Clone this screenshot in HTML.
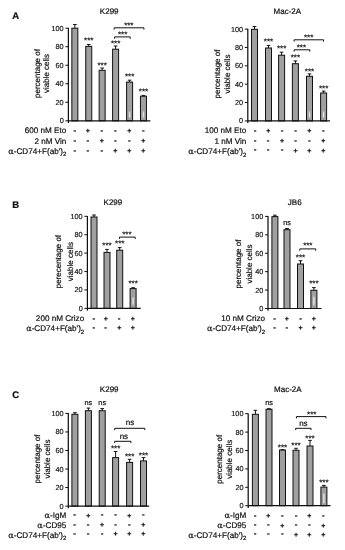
<!DOCTYPE html>
<html><head><meta charset="utf-8"><title>Figure</title>
<style>
html,body{margin:0;padding:0;background:#fff;}
svg{display:block;}
.tk{stroke-width:0.15px;}
text{text-rendering:geometricPrecision;font-family:'Liberation Sans', Arial, sans-serif;fill:#111;stroke:#111;stroke-width:0.2px;}
</style></head>
<body>
<svg width="345" height="550" viewBox="0 0 345 550">
<rect width="345" height="550" fill="#fff"/>
<rect x="71.85" y="28.20" width="6.00" height="92.60" fill="#a0a0a0" stroke="#111" stroke-width="1"/>
<rect x="85.75" y="46.40" width="6.00" height="74.40" fill="#a0a0a0" stroke="#111" stroke-width="1"/>
<rect x="99.15" y="70.30" width="6.00" height="50.50" fill="#a0a0a0" stroke="#111" stroke-width="1"/>
<rect x="112.60" y="49.20" width="6.00" height="71.60" fill="#a0a0a0" stroke="#111" stroke-width="1"/>
<rect x="126.60" y="82.10" width="6.00" height="38.70" fill="#a0a0a0" stroke="#111" stroke-width="1"/>
<rect x="140.45" y="96.20" width="6.00" height="24.60" fill="#a0a0a0" stroke="#111" stroke-width="1"/>
<line x1="129.60" y1="112.00" x2="129.60" y2="117.20" stroke="#fff" stroke-width="1.6" stroke-linecap="round" opacity="0.45"/>
<line x1="129.60" y1="112.80" x2="129.60" y2="116.40" stroke="#fff" stroke-width="0.8" stroke-linecap="round" opacity="0.6"/>
<line x1="143.45" y1="112.00" x2="143.45" y2="117.20" stroke="#fff" stroke-width="1.6" stroke-linecap="round" opacity="0.45"/>
<line x1="143.45" y1="112.80" x2="143.45" y2="116.40" stroke="#fff" stroke-width="0.8" stroke-linecap="round" opacity="0.6"/>
<line x1="74.85" y1="28.20" x2="74.85" y2="24.50" stroke="#111" stroke-width="1"/>
<line x1="73.05" y1="24.50" x2="76.65" y2="24.50" stroke="#111" stroke-width="1"/>
<line x1="88.75" y1="46.40" x2="88.75" y2="44.50" stroke="#111" stroke-width="1"/>
<line x1="86.95" y1="44.50" x2="90.55" y2="44.50" stroke="#111" stroke-width="1"/>
<line x1="102.15" y1="70.30" x2="102.15" y2="68.00" stroke="#111" stroke-width="1"/>
<line x1="100.35" y1="68.00" x2="103.95" y2="68.00" stroke="#111" stroke-width="1"/>
<line x1="115.60" y1="49.20" x2="115.60" y2="46.00" stroke="#111" stroke-width="1"/>
<line x1="113.80" y1="46.00" x2="117.40" y2="46.00" stroke="#111" stroke-width="1"/>
<line x1="129.60" y1="82.10" x2="129.60" y2="80.20" stroke="#111" stroke-width="1"/>
<line x1="127.80" y1="80.20" x2="131.40" y2="80.20" stroke="#111" stroke-width="1"/>
<line x1="143.45" y1="96.20" x2="143.45" y2="95.40" stroke="#111" stroke-width="1"/>
<line x1="141.65" y1="95.40" x2="145.25" y2="95.40" stroke="#111" stroke-width="1"/>
<line x1="68.40" y1="27.90" x2="68.40" y2="123.00" stroke="#111" stroke-width="1.25"/>
<line x1="68.40" y1="120.80" x2="150.40" y2="120.80" stroke="#111" stroke-width="1.2"/>
<line x1="65.40" y1="120.80" x2="68.40" y2="120.80" stroke="#111" stroke-width="1"/>
<text x="63.70" y="123.30" text-anchor="end" font-size="7.3" class="tk">0</text>
<line x1="65.40" y1="102.28" x2="68.40" y2="102.28" stroke="#111" stroke-width="1"/>
<text x="63.70" y="104.78" text-anchor="end" font-size="7.3" class="tk">20</text>
<line x1="65.40" y1="83.76" x2="68.40" y2="83.76" stroke="#111" stroke-width="1"/>
<text x="63.70" y="86.26" text-anchor="end" font-size="7.3" class="tk">40</text>
<line x1="65.40" y1="65.24" x2="68.40" y2="65.24" stroke="#111" stroke-width="1"/>
<text x="63.70" y="67.74" text-anchor="end" font-size="7.3" class="tk">60</text>
<line x1="65.40" y1="46.72" x2="68.40" y2="46.72" stroke="#111" stroke-width="1"/>
<text x="63.70" y="49.22" text-anchor="end" font-size="7.3" class="tk">80</text>
<line x1="65.40" y1="28.20" x2="68.40" y2="28.20" stroke="#111" stroke-width="1"/>
<text x="63.70" y="30.70" text-anchor="end" font-size="7.3" class="tk">100</text>
<text x="88.75" y="43.00" text-anchor="middle" font-size="8" >***</text>
<text x="102.15" y="68.20" text-anchor="middle" font-size="8" >***</text>
<text x="115.60" y="45.50" text-anchor="middle" font-size="8" >***</text>
<text x="129.60" y="79.10" text-anchor="middle" font-size="8" >***</text>
<text x="143.45" y="94.30" text-anchor="middle" font-size="8" >***</text>
<polyline points="114.20,29.60 114.20,27.80 143.90,27.80 143.90,29.60" fill="none" stroke="#111" stroke-width="1"/>
<text x="128.80" y="28.00" text-anchor="middle" font-size="8" >***</text>
<polyline points="114.60,38.70 114.60,36.90 130.20,36.90 130.20,38.70" fill="none" stroke="#111" stroke-width="1"/>
<text x="122.60" y="37.40" text-anchor="middle" font-size="8" >***</text>
<text x="109.20" y="13.90" text-anchor="middle" font-size="8" >K299</text>
<text transform="translate(39.50,73.50) rotate(-90)" text-anchor="middle" font-size="8">percentage of</text>
<text transform="translate(49.00,73.50) rotate(-90)" text-anchor="middle" font-size="8">viable cells</text>
<text x="66.30" y="133.10" text-anchor="end" font-size="8.15" >600 nM Eto</text>
<text x="74.80" y="132.88" text-anchor="middle" font-size="8" font-weight="bold">-</text>
<text x="87.80" y="133.13" text-anchor="middle" font-size="7" font-weight="bold">+</text>
<text x="101.90" y="132.88" text-anchor="middle" font-size="8" font-weight="bold">-</text>
<text x="115.40" y="132.88" text-anchor="middle" font-size="8" font-weight="bold">-</text>
<text x="129.40" y="133.13" text-anchor="middle" font-size="7" font-weight="bold">+</text>
<text x="143.30" y="132.88" text-anchor="middle" font-size="8" font-weight="bold">-</text>
<text x="66.30" y="144.00" text-anchor="end" font-size="8.15" >2 nM Vin</text>
<text x="74.80" y="142.88" text-anchor="middle" font-size="8" font-weight="bold">-</text>
<text x="87.80" y="142.88" text-anchor="middle" font-size="8" font-weight="bold">-</text>
<text x="101.90" y="143.13" text-anchor="middle" font-size="7" font-weight="bold">+</text>
<text x="115.40" y="142.88" text-anchor="middle" font-size="8" font-weight="bold">-</text>
<text x="129.40" y="142.88" text-anchor="middle" font-size="8" font-weight="bold">-</text>
<text x="143.30" y="143.13" text-anchor="middle" font-size="7" font-weight="bold">+</text>
<text x="66.30" y="154.10" text-anchor="end" font-size="8.15" ><tspan font-family="DejaVu Serif, serif" font-size="8.2">α</tspan>-CD74+F(ab')<tspan font-size="6" dy="2.2">2</tspan></text>
<text x="74.80" y="153.08" text-anchor="middle" font-size="8" font-weight="bold">-</text>
<text x="87.80" y="153.08" text-anchor="middle" font-size="8" font-weight="bold">-</text>
<text x="101.90" y="153.08" text-anchor="middle" font-size="8" font-weight="bold">-</text>
<text x="115.40" y="153.33" text-anchor="middle" font-size="7" font-weight="bold">+</text>
<text x="129.40" y="153.33" text-anchor="middle" font-size="7" font-weight="bold">+</text>
<text x="143.30" y="153.33" text-anchor="middle" font-size="7" font-weight="bold">+</text>
<rect x="251.50" y="29.30" width="6.00" height="91.60" fill="#a0a0a0" stroke="#111" stroke-width="1"/>
<rect x="265.50" y="48.00" width="6.00" height="72.90" fill="#a0a0a0" stroke="#111" stroke-width="1"/>
<rect x="278.60" y="55.20" width="6.00" height="65.70" fill="#a0a0a0" stroke="#111" stroke-width="1"/>
<rect x="292.40" y="63.70" width="6.00" height="57.20" fill="#a0a0a0" stroke="#111" stroke-width="1"/>
<rect x="306.50" y="76.30" width="6.00" height="44.60" fill="#a0a0a0" stroke="#111" stroke-width="1"/>
<rect x="320.60" y="93.00" width="6.00" height="27.90" fill="#a0a0a0" stroke="#111" stroke-width="1"/>
<line x1="309.50" y1="112.00" x2="309.50" y2="117.20" stroke="#fff" stroke-width="1.6" stroke-linecap="round" opacity="0.45"/>
<line x1="309.50" y1="112.80" x2="309.50" y2="116.40" stroke="#fff" stroke-width="0.8" stroke-linecap="round" opacity="0.6"/>
<line x1="323.60" y1="112.00" x2="323.60" y2="117.20" stroke="#fff" stroke-width="1.6" stroke-linecap="round" opacity="0.45"/>
<line x1="323.60" y1="112.80" x2="323.60" y2="116.40" stroke="#fff" stroke-width="0.8" stroke-linecap="round" opacity="0.6"/>
<line x1="254.50" y1="29.30" x2="254.50" y2="26.50" stroke="#111" stroke-width="1"/>
<line x1="252.70" y1="26.50" x2="256.30" y2="26.50" stroke="#111" stroke-width="1"/>
<line x1="268.50" y1="48.00" x2="268.50" y2="45.40" stroke="#111" stroke-width="1"/>
<line x1="266.70" y1="45.40" x2="270.30" y2="45.40" stroke="#111" stroke-width="1"/>
<line x1="281.60" y1="55.20" x2="281.60" y2="52.20" stroke="#111" stroke-width="1"/>
<line x1="279.80" y1="52.20" x2="283.40" y2="52.20" stroke="#111" stroke-width="1"/>
<line x1="295.40" y1="63.70" x2="295.40" y2="60.90" stroke="#111" stroke-width="1"/>
<line x1="293.60" y1="60.90" x2="297.20" y2="60.90" stroke="#111" stroke-width="1"/>
<line x1="309.50" y1="76.30" x2="309.50" y2="73.90" stroke="#111" stroke-width="1"/>
<line x1="307.70" y1="73.90" x2="311.30" y2="73.90" stroke="#111" stroke-width="1"/>
<line x1="323.60" y1="93.00" x2="323.60" y2="91.10" stroke="#111" stroke-width="1"/>
<line x1="321.80" y1="91.10" x2="325.40" y2="91.10" stroke="#111" stroke-width="1"/>
<line x1="247.80" y1="28.80" x2="247.80" y2="123.10" stroke="#111" stroke-width="1.25"/>
<line x1="247.80" y1="120.90" x2="330.00" y2="120.90" stroke="#111" stroke-width="1.2"/>
<line x1="244.80" y1="120.90" x2="247.80" y2="120.90" stroke="#111" stroke-width="1"/>
<text x="243.10" y="123.40" text-anchor="end" font-size="7.3" class="tk">0</text>
<line x1="244.80" y1="102.54" x2="247.80" y2="102.54" stroke="#111" stroke-width="1"/>
<text x="243.10" y="105.04" text-anchor="end" font-size="7.3" class="tk">20</text>
<line x1="244.80" y1="84.18" x2="247.80" y2="84.18" stroke="#111" stroke-width="1"/>
<text x="243.10" y="86.68" text-anchor="end" font-size="7.3" class="tk">40</text>
<line x1="244.80" y1="65.82" x2="247.80" y2="65.82" stroke="#111" stroke-width="1"/>
<text x="243.10" y="68.32" text-anchor="end" font-size="7.3" class="tk">60</text>
<line x1="244.80" y1="47.46" x2="247.80" y2="47.46" stroke="#111" stroke-width="1"/>
<text x="243.10" y="49.96" text-anchor="end" font-size="7.3" class="tk">80</text>
<line x1="244.80" y1="29.10" x2="247.80" y2="29.10" stroke="#111" stroke-width="1"/>
<text x="243.10" y="31.60" text-anchor="end" font-size="7.3" class="tk">100</text>
<text x="268.50" y="43.90" text-anchor="middle" font-size="8" >***</text>
<text x="281.60" y="50.50" text-anchor="middle" font-size="8" >***</text>
<text x="295.40" y="59.90" text-anchor="middle" font-size="8" >***</text>
<text x="309.50" y="74.10" text-anchor="middle" font-size="8" >***</text>
<text x="323.60" y="90.90" text-anchor="middle" font-size="8" >***</text>
<polyline points="294.10,41.60 294.10,39.80 323.50,39.80 323.50,41.60" fill="none" stroke="#111" stroke-width="1"/>
<text x="308.60" y="40.00" text-anchor="middle" font-size="8" >***</text>
<polyline points="294.10,51.60 294.10,49.80 309.80,49.80 309.80,51.60" fill="none" stroke="#111" stroke-width="1"/>
<text x="301.40" y="50.10" text-anchor="middle" font-size="8" >***</text>
<text x="287.30" y="13.90" text-anchor="middle" font-size="8" >Mac-2A</text>
<text transform="translate(219.90,74.00) rotate(-90)" text-anchor="middle" font-size="8">percentage of</text>
<text transform="translate(229.90,74.00) rotate(-90)" text-anchor="middle" font-size="8">viable cells</text>
<text x="246.30" y="133.20" text-anchor="end" font-size="8.15" >100 nM Eto</text>
<text x="255.00" y="132.73" text-anchor="middle" font-size="8" font-weight="bold">-</text>
<text x="268.20" y="132.98" text-anchor="middle" font-size="7" font-weight="bold">+</text>
<text x="282.10" y="132.73" text-anchor="middle" font-size="8" font-weight="bold">-</text>
<text x="295.50" y="132.73" text-anchor="middle" font-size="8" font-weight="bold">-</text>
<text x="309.40" y="132.98" text-anchor="middle" font-size="7" font-weight="bold">+</text>
<text x="323.40" y="132.73" text-anchor="middle" font-size="8" font-weight="bold">-</text>
<text x="246.30" y="143.70" text-anchor="end" font-size="8.15" >1 nM Vin</text>
<text x="255.00" y="142.53" text-anchor="middle" font-size="8" font-weight="bold">-</text>
<text x="268.20" y="142.53" text-anchor="middle" font-size="8" font-weight="bold">-</text>
<text x="282.10" y="142.78" text-anchor="middle" font-size="7" font-weight="bold">+</text>
<text x="295.50" y="142.53" text-anchor="middle" font-size="8" font-weight="bold">-</text>
<text x="309.40" y="142.53" text-anchor="middle" font-size="8" font-weight="bold">-</text>
<text x="323.40" y="142.78" text-anchor="middle" font-size="7" font-weight="bold">+</text>
<text x="246.30" y="154.30" text-anchor="end" font-size="8.15" ><tspan font-family="DejaVu Serif, serif" font-size="8.2">α</tspan>-CD74+F(ab')<tspan font-size="6" dy="2.2">2</tspan></text>
<text x="255.00" y="152.48" text-anchor="middle" font-size="8" font-weight="bold">-</text>
<text x="268.20" y="152.48" text-anchor="middle" font-size="8" font-weight="bold">-</text>
<text x="282.10" y="152.48" text-anchor="middle" font-size="8" font-weight="bold">-</text>
<text x="295.50" y="152.73" text-anchor="middle" font-size="7" font-weight="bold">+</text>
<text x="309.40" y="152.73" text-anchor="middle" font-size="7" font-weight="bold">+</text>
<text x="323.40" y="152.73" text-anchor="middle" font-size="7" font-weight="bold">+</text>
<rect x="91.00" y="217.00" width="6.00" height="91.40" fill="#a0a0a0" stroke="#111" stroke-width="1"/>
<rect x="104.00" y="252.40" width="6.00" height="56.00" fill="#a0a0a0" stroke="#111" stroke-width="1"/>
<rect x="116.70" y="250.20" width="6.00" height="58.20" fill="#a0a0a0" stroke="#111" stroke-width="1"/>
<rect x="130.10" y="288.60" width="6.00" height="19.80" fill="#a0a0a0" stroke="#111" stroke-width="1"/>
<line x1="133.10" y1="297.80" x2="133.10" y2="304.20" stroke="#fff" stroke-width="1.6" stroke-linecap="round" opacity="0.45"/>
<line x1="133.10" y1="298.60" x2="133.10" y2="303.40" stroke="#fff" stroke-width="0.8" stroke-linecap="round" opacity="0.6"/>
<line x1="94.00" y1="217.00" x2="94.00" y2="215.00" stroke="#111" stroke-width="1"/>
<line x1="92.20" y1="215.00" x2="95.80" y2="215.00" stroke="#111" stroke-width="1"/>
<line x1="107.00" y1="252.40" x2="107.00" y2="249.40" stroke="#111" stroke-width="1"/>
<line x1="105.20" y1="249.40" x2="108.80" y2="249.40" stroke="#111" stroke-width="1"/>
<line x1="119.70" y1="250.20" x2="119.70" y2="247.60" stroke="#111" stroke-width="1"/>
<line x1="117.90" y1="247.60" x2="121.50" y2="247.60" stroke="#111" stroke-width="1"/>
<line x1="133.10" y1="288.60" x2="133.10" y2="287.70" stroke="#111" stroke-width="1"/>
<line x1="131.30" y1="287.70" x2="134.90" y2="287.70" stroke="#111" stroke-width="1"/>
<line x1="87.40" y1="216.00" x2="87.40" y2="310.60" stroke="#111" stroke-width="1.25"/>
<line x1="87.40" y1="308.40" x2="140.70" y2="308.40" stroke="#111" stroke-width="1.2"/>
<line x1="84.40" y1="308.40" x2="87.40" y2="308.40" stroke="#111" stroke-width="1"/>
<text x="82.70" y="310.90" text-anchor="end" font-size="7.3" class="tk">0</text>
<line x1="84.40" y1="289.98" x2="87.40" y2="289.98" stroke="#111" stroke-width="1"/>
<text x="82.70" y="292.48" text-anchor="end" font-size="7.3" class="tk">20</text>
<line x1="84.40" y1="271.56" x2="87.40" y2="271.56" stroke="#111" stroke-width="1"/>
<text x="82.70" y="274.06" text-anchor="end" font-size="7.3" class="tk">40</text>
<line x1="84.40" y1="253.14" x2="87.40" y2="253.14" stroke="#111" stroke-width="1"/>
<text x="82.70" y="255.64" text-anchor="end" font-size="7.3" class="tk">60</text>
<line x1="84.40" y1="234.72" x2="87.40" y2="234.72" stroke="#111" stroke-width="1"/>
<text x="82.70" y="237.22" text-anchor="end" font-size="7.3" class="tk">80</text>
<line x1="84.40" y1="216.30" x2="87.40" y2="216.30" stroke="#111" stroke-width="1"/>
<text x="82.70" y="218.80" text-anchor="end" font-size="7.3" class="tk">100</text>
<text x="107.00" y="248.00" text-anchor="middle" font-size="8" >***</text>
<text x="119.70" y="246.40" text-anchor="middle" font-size="8" >***</text>
<text x="133.10" y="286.10" text-anchor="middle" font-size="8" >***</text>
<polyline points="119.50,238.90 119.50,237.10 135.20,237.10 135.20,238.90" fill="none" stroke="#111" stroke-width="1"/>
<text x="126.90" y="236.90" text-anchor="middle" font-size="8" >***</text>
<text x="112.90" y="205.30" text-anchor="middle" font-size="8" >K299</text>
<text transform="translate(61.40,261.60) rotate(-90)" text-anchor="middle" font-size="8">perecentage of</text>
<text transform="translate(72.90,261.60) rotate(-90)" text-anchor="middle" font-size="8">viable cells</text>
<text x="84.20" y="321.40" text-anchor="end" font-size="8.15" >200 nM Crizo</text>
<text x="93.80" y="320.78" text-anchor="middle" font-size="8" font-weight="bold">-</text>
<text x="105.70" y="321.03" text-anchor="middle" font-size="7" font-weight="bold">+</text>
<text x="119.20" y="320.78" text-anchor="middle" font-size="8" font-weight="bold">-</text>
<text x="132.90" y="321.03" text-anchor="middle" font-size="7" font-weight="bold">+</text>
<text x="84.20" y="331.40" text-anchor="end" font-size="8.15" ><tspan font-family="DejaVu Serif, serif" font-size="8.2">α</tspan>-CD74+F(ab')<tspan font-size="6" dy="2.2">2</tspan></text>
<text x="93.80" y="329.88" text-anchor="middle" font-size="8" font-weight="bold">-</text>
<text x="105.70" y="329.88" text-anchor="middle" font-size="8" font-weight="bold">-</text>
<text x="119.20" y="330.13" text-anchor="middle" font-size="7" font-weight="bold">+</text>
<text x="132.90" y="330.13" text-anchor="middle" font-size="7" font-weight="bold">+</text>
<rect x="271.90" y="216.60" width="6.00" height="91.90" fill="#a0a0a0" stroke="#111" stroke-width="1"/>
<rect x="284.00" y="229.70" width="6.00" height="78.80" fill="#a0a0a0" stroke="#111" stroke-width="1"/>
<rect x="297.50" y="264.00" width="6.00" height="44.50" fill="#a0a0a0" stroke="#111" stroke-width="1"/>
<rect x="310.90" y="290.30" width="6.00" height="18.20" fill="#a0a0a0" stroke="#111" stroke-width="1"/>
<line x1="313.90" y1="297.20" x2="313.90" y2="304.80" stroke="#fff" stroke-width="1.6" stroke-linecap="round" opacity="0.45"/>
<line x1="313.90" y1="298.00" x2="313.90" y2="304.00" stroke="#fff" stroke-width="0.8" stroke-linecap="round" opacity="0.6"/>
<line x1="274.90" y1="216.60" x2="274.90" y2="215.20" stroke="#111" stroke-width="1"/>
<line x1="273.10" y1="215.20" x2="276.70" y2="215.20" stroke="#111" stroke-width="1"/>
<line x1="287.00" y1="229.70" x2="287.00" y2="228.50" stroke="#111" stroke-width="1"/>
<line x1="285.20" y1="228.50" x2="288.80" y2="228.50" stroke="#111" stroke-width="1"/>
<line x1="300.50" y1="264.00" x2="300.50" y2="260.70" stroke="#111" stroke-width="1"/>
<line x1="298.70" y1="260.70" x2="302.30" y2="260.70" stroke="#111" stroke-width="1"/>
<line x1="313.90" y1="290.30" x2="313.90" y2="287.60" stroke="#111" stroke-width="1"/>
<line x1="312.10" y1="287.60" x2="315.70" y2="287.60" stroke="#111" stroke-width="1"/>
<line x1="268.00" y1="216.10" x2="268.00" y2="310.70" stroke="#111" stroke-width="1.25"/>
<line x1="268.00" y1="308.50" x2="321.50" y2="308.50" stroke="#111" stroke-width="1.2"/>
<line x1="265.00" y1="308.50" x2="268.00" y2="308.50" stroke="#111" stroke-width="1"/>
<text x="263.30" y="311.00" text-anchor="end" font-size="7.3" class="tk">0</text>
<line x1="265.00" y1="290.08" x2="268.00" y2="290.08" stroke="#111" stroke-width="1"/>
<text x="263.30" y="292.58" text-anchor="end" font-size="7.3" class="tk">20</text>
<line x1="265.00" y1="271.66" x2="268.00" y2="271.66" stroke="#111" stroke-width="1"/>
<text x="263.30" y="274.16" text-anchor="end" font-size="7.3" class="tk">40</text>
<line x1="265.00" y1="253.24" x2="268.00" y2="253.24" stroke="#111" stroke-width="1"/>
<text x="263.30" y="255.74" text-anchor="end" font-size="7.3" class="tk">60</text>
<line x1="265.00" y1="234.82" x2="268.00" y2="234.82" stroke="#111" stroke-width="1"/>
<text x="263.30" y="237.32" text-anchor="end" font-size="7.3" class="tk">80</text>
<line x1="265.00" y1="216.40" x2="268.00" y2="216.40" stroke="#111" stroke-width="1"/>
<text x="263.30" y="218.90" text-anchor="end" font-size="7.3" class="tk">100</text>
<text x="287.00" y="224.86" text-anchor="middle" font-size="7.3" >ns</text>
<text x="300.50" y="260.00" text-anchor="middle" font-size="8" >***</text>
<text x="313.90" y="286.30" text-anchor="middle" font-size="8" >***</text>
<polyline points="299.80,250.70 299.80,248.90 315.70,248.90 315.70,250.70" fill="none" stroke="#111" stroke-width="1"/>
<text x="307.80" y="248.40" text-anchor="middle" font-size="8" >***</text>
<text x="294.70" y="205.30" text-anchor="middle" font-size="8" >JB6</text>
<text transform="translate(241.00,264.00) rotate(-90)" text-anchor="middle" font-size="8">percentage of</text>
<text transform="translate(251.90,264.00) rotate(-90)" text-anchor="middle" font-size="8">viable cells</text>
<text x="265.10" y="321.40" text-anchor="end" font-size="8.15" >10 nM Crizo</text>
<text x="274.50" y="320.78" text-anchor="middle" font-size="8" font-weight="bold">-</text>
<text x="286.80" y="321.03" text-anchor="middle" font-size="7" font-weight="bold">+</text>
<text x="300.60" y="320.78" text-anchor="middle" font-size="8" font-weight="bold">-</text>
<text x="313.70" y="321.03" text-anchor="middle" font-size="7" font-weight="bold">+</text>
<text x="265.10" y="331.40" text-anchor="end" font-size="8.15" ><tspan font-family="DejaVu Serif, serif" font-size="8.2">α</tspan>-CD74+F(ab')<tspan font-size="6" dy="2.2">2</tspan></text>
<text x="274.50" y="329.88" text-anchor="middle" font-size="8" font-weight="bold">-</text>
<text x="286.80" y="329.88" text-anchor="middle" font-size="8" font-weight="bold">-</text>
<text x="300.60" y="330.13" text-anchor="middle" font-size="7" font-weight="bold">+</text>
<text x="313.70" y="330.13" text-anchor="middle" font-size="7" font-weight="bold">+</text>
<rect x="71.90" y="414.30" width="6.00" height="91.80" fill="#a0a0a0" stroke="#111" stroke-width="1"/>
<rect x="85.40" y="410.70" width="6.00" height="95.40" fill="#a0a0a0" stroke="#111" stroke-width="1"/>
<rect x="99.20" y="410.70" width="6.00" height="95.40" fill="#a0a0a0" stroke="#111" stroke-width="1"/>
<rect x="112.60" y="457.60" width="6.00" height="48.50" fill="#a0a0a0" stroke="#111" stroke-width="1"/>
<rect x="126.60" y="462.40" width="6.00" height="43.70" fill="#a0a0a0" stroke="#111" stroke-width="1"/>
<rect x="140.50" y="460.90" width="6.00" height="45.20" fill="#a0a0a0" stroke="#111" stroke-width="1"/>
<line x1="74.90" y1="414.30" x2="74.90" y2="412.70" stroke="#111" stroke-width="1"/>
<line x1="73.10" y1="412.70" x2="76.70" y2="412.70" stroke="#111" stroke-width="1"/>
<line x1="88.40" y1="410.70" x2="88.40" y2="408.10" stroke="#111" stroke-width="1"/>
<line x1="86.60" y1="408.10" x2="90.20" y2="408.10" stroke="#111" stroke-width="1"/>
<line x1="102.20" y1="410.70" x2="102.20" y2="408.60" stroke="#111" stroke-width="1"/>
<line x1="100.40" y1="408.60" x2="104.00" y2="408.60" stroke="#111" stroke-width="1"/>
<line x1="115.60" y1="457.60" x2="115.60" y2="451.50" stroke="#111" stroke-width="1"/>
<line x1="113.80" y1="451.50" x2="117.40" y2="451.50" stroke="#111" stroke-width="1"/>
<line x1="129.60" y1="462.40" x2="129.60" y2="459.30" stroke="#111" stroke-width="1"/>
<line x1="127.80" y1="459.30" x2="131.40" y2="459.30" stroke="#111" stroke-width="1"/>
<line x1="143.50" y1="460.90" x2="143.50" y2="457.60" stroke="#111" stroke-width="1"/>
<line x1="141.70" y1="457.60" x2="145.30" y2="457.60" stroke="#111" stroke-width="1"/>
<line x1="68.30" y1="413.10" x2="68.30" y2="508.30" stroke="#111" stroke-width="1.25"/>
<line x1="68.30" y1="506.10" x2="149.20" y2="506.10" stroke="#111" stroke-width="1.2"/>
<line x1="65.30" y1="506.10" x2="68.30" y2="506.10" stroke="#111" stroke-width="1"/>
<text x="63.60" y="508.60" text-anchor="end" font-size="7.3" class="tk">0</text>
<line x1="65.30" y1="487.56" x2="68.30" y2="487.56" stroke="#111" stroke-width="1"/>
<text x="63.60" y="490.06" text-anchor="end" font-size="7.3" class="tk">20</text>
<line x1="65.30" y1="469.02" x2="68.30" y2="469.02" stroke="#111" stroke-width="1"/>
<text x="63.60" y="471.52" text-anchor="end" font-size="7.3" class="tk">40</text>
<line x1="65.30" y1="450.48" x2="68.30" y2="450.48" stroke="#111" stroke-width="1"/>
<text x="63.60" y="452.98" text-anchor="end" font-size="7.3" class="tk">60</text>
<line x1="65.30" y1="431.94" x2="68.30" y2="431.94" stroke="#111" stroke-width="1"/>
<text x="63.60" y="434.44" text-anchor="end" font-size="7.3" class="tk">80</text>
<line x1="65.30" y1="413.40" x2="68.30" y2="413.40" stroke="#111" stroke-width="1"/>
<text x="63.60" y="415.90" text-anchor="end" font-size="7.3" class="tk">100</text>
<text x="88.40" y="404.86" text-anchor="middle" font-size="7.3" >ns</text>
<text x="102.20" y="404.76" text-anchor="middle" font-size="7.3" >ns</text>
<text x="115.60" y="451.10" text-anchor="middle" font-size="8" >***</text>
<text x="129.60" y="458.70" text-anchor="middle" font-size="8" >***</text>
<text x="143.50" y="457.70" text-anchor="middle" font-size="8" >***</text>
<polyline points="114.70,430.10 114.70,428.30 144.80,428.30 144.80,430.10" fill="none" stroke="#111" stroke-width="1"/>
<text x="130.00" y="425.45" text-anchor="middle" font-size="8" >ns</text>
<polyline points="114.70,443.10 114.70,441.30 130.90,441.30 130.90,443.10" fill="none" stroke="#111" stroke-width="1"/>
<text x="123.90" y="438.65" text-anchor="middle" font-size="8" >ns</text>
<text x="109.20" y="391.80" text-anchor="middle" font-size="8" >K299</text>
<text transform="translate(39.50,459.00) rotate(-90)" text-anchor="middle" font-size="8">percentage of</text>
<text transform="translate(49.50,459.00) rotate(-90)" text-anchor="middle" font-size="8">viable cells</text>
<text x="66.30" y="518.00" text-anchor="end" font-size="8.15" ><tspan font-family="DejaVu Serif, serif" font-size="8.2">α</tspan>-IgM</text>
<text x="74.50" y="517.48" text-anchor="middle" font-size="8" font-weight="bold">-</text>
<text x="88.20" y="517.73" text-anchor="middle" font-size="7" font-weight="bold">+</text>
<text x="102.10" y="517.48" text-anchor="middle" font-size="8" font-weight="bold">-</text>
<text x="115.50" y="517.48" text-anchor="middle" font-size="8" font-weight="bold">-</text>
<text x="129.40" y="517.73" text-anchor="middle" font-size="7" font-weight="bold">+</text>
<text x="143.40" y="517.48" text-anchor="middle" font-size="8" font-weight="bold">-</text>
<text x="66.30" y="527.80" text-anchor="end" font-size="8.15" ><tspan font-family="DejaVu Serif, serif" font-size="8.2">α</tspan>-CD95</text>
<text x="74.50" y="526.98" text-anchor="middle" font-size="8" font-weight="bold">-</text>
<text x="88.20" y="526.98" text-anchor="middle" font-size="8" font-weight="bold">-</text>
<text x="102.10" y="527.23" text-anchor="middle" font-size="7" font-weight="bold">+</text>
<text x="115.50" y="526.98" text-anchor="middle" font-size="8" font-weight="bold">-</text>
<text x="129.40" y="526.98" text-anchor="middle" font-size="8" font-weight="bold">-</text>
<text x="143.40" y="527.23" text-anchor="middle" font-size="7" font-weight="bold">+</text>
<text x="66.30" y="538.10" text-anchor="end" font-size="8.15" ><tspan font-family="DejaVu Serif, serif" font-size="8.2">α</tspan>-CD74+F(ab')<tspan font-size="6" dy="2.2">2</tspan></text>
<text x="74.50" y="536.08" text-anchor="middle" font-size="8" font-weight="bold">-</text>
<text x="88.20" y="536.08" text-anchor="middle" font-size="8" font-weight="bold">-</text>
<text x="102.10" y="536.08" text-anchor="middle" font-size="8" font-weight="bold">-</text>
<text x="115.50" y="536.33" text-anchor="middle" font-size="7" font-weight="bold">+</text>
<text x="129.40" y="536.33" text-anchor="middle" font-size="7" font-weight="bold">+</text>
<text x="143.40" y="536.33" text-anchor="middle" font-size="7" font-weight="bold">+</text>
<rect x="252.40" y="414.30" width="6.00" height="91.40" fill="#a0a0a0" stroke="#111" stroke-width="1"/>
<rect x="266.00" y="409.30" width="6.00" height="96.40" fill="#a0a0a0" stroke="#111" stroke-width="1"/>
<rect x="279.50" y="450.00" width="6.00" height="55.70" fill="#a0a0a0" stroke="#111" stroke-width="1"/>
<rect x="293.00" y="450.30" width="6.00" height="55.40" fill="#a0a0a0" stroke="#111" stroke-width="1"/>
<rect x="307.00" y="446.00" width="6.00" height="59.70" fill="#a0a0a0" stroke="#111" stroke-width="1"/>
<rect x="320.90" y="487.10" width="6.00" height="18.60" fill="#a0a0a0" stroke="#111" stroke-width="1"/>
<line x1="323.90" y1="494.00" x2="323.90" y2="503.00" stroke="#fff" stroke-width="1.6" stroke-linecap="round" opacity="0.45"/>
<line x1="323.90" y1="494.80" x2="323.90" y2="502.20" stroke="#fff" stroke-width="0.8" stroke-linecap="round" opacity="0.6"/>
<line x1="255.40" y1="414.30" x2="255.40" y2="410.30" stroke="#111" stroke-width="1"/>
<line x1="253.60" y1="410.30" x2="257.20" y2="410.30" stroke="#111" stroke-width="1"/>
<line x1="269.00" y1="409.30" x2="269.00" y2="408.70" stroke="#111" stroke-width="1"/>
<line x1="267.20" y1="408.70" x2="270.80" y2="408.70" stroke="#111" stroke-width="1"/>
<line x1="282.50" y1="450.00" x2="282.50" y2="449.70" stroke="#111" stroke-width="1"/>
<line x1="280.70" y1="449.70" x2="284.30" y2="449.70" stroke="#111" stroke-width="1"/>
<line x1="296.00" y1="450.30" x2="296.00" y2="448.30" stroke="#111" stroke-width="1"/>
<line x1="294.20" y1="448.30" x2="297.80" y2="448.30" stroke="#111" stroke-width="1"/>
<line x1="310.00" y1="446.00" x2="310.00" y2="440.40" stroke="#111" stroke-width="1"/>
<line x1="308.20" y1="440.40" x2="311.80" y2="440.40" stroke="#111" stroke-width="1"/>
<line x1="323.90" y1="487.10" x2="323.90" y2="485.40" stroke="#111" stroke-width="1"/>
<line x1="322.10" y1="485.40" x2="325.70" y2="485.40" stroke="#111" stroke-width="1"/>
<line x1="248.20" y1="413.40" x2="248.20" y2="507.90" stroke="#111" stroke-width="1.25"/>
<line x1="248.20" y1="505.70" x2="330.50" y2="505.70" stroke="#111" stroke-width="1.2"/>
<line x1="245.20" y1="505.70" x2="248.20" y2="505.70" stroke="#111" stroke-width="1"/>
<text x="243.50" y="508.20" text-anchor="end" font-size="7.3" class="tk">0</text>
<line x1="245.20" y1="487.30" x2="248.20" y2="487.30" stroke="#111" stroke-width="1"/>
<text x="243.50" y="489.80" text-anchor="end" font-size="7.3" class="tk">20</text>
<line x1="245.20" y1="468.90" x2="248.20" y2="468.90" stroke="#111" stroke-width="1"/>
<text x="243.50" y="471.40" text-anchor="end" font-size="7.3" class="tk">40</text>
<line x1="245.20" y1="450.50" x2="248.20" y2="450.50" stroke="#111" stroke-width="1"/>
<text x="243.50" y="453.00" text-anchor="end" font-size="7.3" class="tk">60</text>
<line x1="245.20" y1="432.10" x2="248.20" y2="432.10" stroke="#111" stroke-width="1"/>
<text x="243.50" y="434.60" text-anchor="end" font-size="7.3" class="tk">80</text>
<line x1="245.20" y1="413.70" x2="248.20" y2="413.70" stroke="#111" stroke-width="1"/>
<text x="243.50" y="416.20" text-anchor="end" font-size="7.3" class="tk">100</text>
<text x="269.00" y="405.06" text-anchor="middle" font-size="7.3" >ns</text>
<text x="282.50" y="450.10" text-anchor="middle" font-size="8" >***</text>
<text x="296.00" y="447.70" text-anchor="middle" font-size="8" >***</text>
<text x="310.00" y="440.70" text-anchor="middle" font-size="8" >***</text>
<text x="323.90" y="485.20" text-anchor="middle" font-size="8" >***</text>
<polyline points="296.40,418.40 296.40,416.60 326.00,416.60 326.00,418.40" fill="none" stroke="#111" stroke-width="1"/>
<text x="311.70" y="416.70" text-anchor="middle" font-size="8" >***</text>
<polyline points="295.70,430.10 295.70,428.30 311.00,428.30 311.00,430.10" fill="none" stroke="#111" stroke-width="1"/>
<text x="303.40" y="425.55" text-anchor="middle" font-size="8" >ns</text>
<text x="287.80" y="391.80" text-anchor="middle" font-size="8" >Mac-2A</text>
<text transform="translate(221.60,459.30) rotate(-90)" text-anchor="middle" font-size="8">percentage of</text>
<text transform="translate(231.70,459.30) rotate(-90)" text-anchor="middle" font-size="8">viable cells</text>
<text x="246.30" y="518.00" text-anchor="end" font-size="8.15" ><tspan font-family="DejaVu Serif, serif" font-size="8.2">α</tspan>-IgM</text>
<text x="255.00" y="518.08" text-anchor="middle" font-size="8" font-weight="bold">-</text>
<text x="268.40" y="518.33" text-anchor="middle" font-size="7" font-weight="bold">+</text>
<text x="282.30" y="518.08" text-anchor="middle" font-size="8" font-weight="bold">-</text>
<text x="296.00" y="518.08" text-anchor="middle" font-size="8" font-weight="bold">-</text>
<text x="309.40" y="518.33" text-anchor="middle" font-size="7" font-weight="bold">+</text>
<text x="323.40" y="518.08" text-anchor="middle" font-size="8" font-weight="bold">-</text>
<text x="246.30" y="527.80" text-anchor="end" font-size="8.15" ><tspan font-family="DejaVu Serif, serif" font-size="8.2">α</tspan>-CD95</text>
<text x="255.00" y="527.38" text-anchor="middle" font-size="8" font-weight="bold">-</text>
<text x="268.40" y="527.38" text-anchor="middle" font-size="8" font-weight="bold">-</text>
<text x="282.30" y="527.63" text-anchor="middle" font-size="7" font-weight="bold">+</text>
<text x="296.00" y="527.38" text-anchor="middle" font-size="8" font-weight="bold">-</text>
<text x="309.40" y="527.38" text-anchor="middle" font-size="8" font-weight="bold">-</text>
<text x="323.40" y="527.63" text-anchor="middle" font-size="7" font-weight="bold">+</text>
<text x="246.30" y="538.10" text-anchor="end" font-size="8.15" ><tspan font-family="DejaVu Serif, serif" font-size="8.2">α</tspan>-CD74+F(ab')<tspan font-size="6" dy="2.2">2</tspan></text>
<text x="255.00" y="536.38" text-anchor="middle" font-size="8" font-weight="bold">-</text>
<text x="268.40" y="536.38" text-anchor="middle" font-size="8" font-weight="bold">-</text>
<text x="282.30" y="536.38" text-anchor="middle" font-size="8" font-weight="bold">-</text>
<text x="296.00" y="536.63" text-anchor="middle" font-size="7" font-weight="bold">+</text>
<text x="309.40" y="536.63" text-anchor="middle" font-size="7" font-weight="bold">+</text>
<text x="323.40" y="536.63" text-anchor="middle" font-size="7" font-weight="bold">+</text>
<text x="12.20" y="18.60" text-anchor="start" font-size="9.6" font-weight="bold">A</text>
<text x="12.20" y="207.80" text-anchor="start" font-size="9.6" font-weight="bold">B</text>
<text x="12.20" y="398.30" text-anchor="start" font-size="9.6" font-weight="bold">C</text>
</svg>
</body></html>
